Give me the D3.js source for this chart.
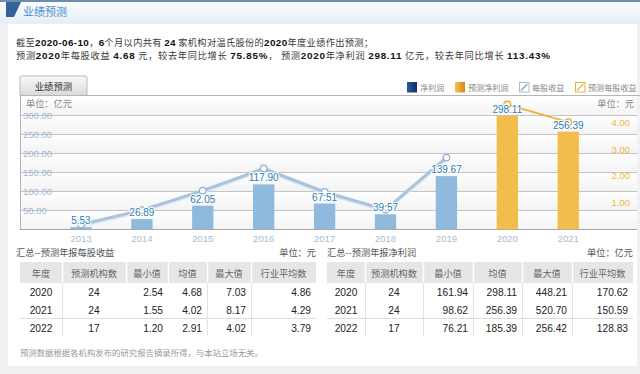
<!DOCTYPE html>
<html><head><meta charset="utf-8">
<script src="https://cdn.jsdelivr.net/npm/d3@7/dist/d3.min.js"></script>
<style>
html,body{margin:0;padding:0;background:#fff;}
svg{display:block;}
</style></head>
<body>
<svg id="c" width="640" height="374"></svg>
<script>
// ---------- data ----------
const years = ["2013","2014","2015","2016","2017","2018","2019","2020","2021"];
const histYears = ["2013","2014","2015","2016","2017","2018","2019"];
const histProfit = [5.53, 26.89, 62.05, 117.90, 67.51, 39.57, 139.67];
const fcYears = ["2020","2021"];
const fcProfit = [298.11, 256.39];
const histEps = [0.18, 0.72, 1.45, 2.28, 1.40, 0.74, 2.69];
const fcEps = [4.68, 4.02];
const leftTicks = [50, 100, 150, 200, 250, 300];
const rightTicks = [1, 2, 3, 4];
const legendLabels = ["净利润", "预测净利润", "每股收益", "预测每股收益"];
const tableHeader = ["年度", "预测机构数", "最小值", "均值", "最大值", "行业平均数"];
const epsRows = [
  ["2020", "24", "2.54", "4.68", "7.03", "4.86"],
  ["2021", "24", "1.55", "4.02", "8.17", "4.29"],
  ["2022", "17", "1.20", "2.91", "4.02", "3.79"]
];
const profitRows = [
  ["2020", "24", "161.94", "298.11", "448.21", "170.62"],
  ["2021", "24", "98.62", "256.39", "520.70", "150.59"],
  ["2022", "17", "76.21", "185.39", "256.42", "128.83"]
];
// summary sentences: [text, bold?]
const line1 = [["截至",0],["2020-06-10",1],["，",0],["6",1],["个月以内共有 ",0],["24",1],[" 家机构对温氏股份的",0],["2020",1],["年度业绩作出预测；",0]];
const line2 = [["预测",0],["2020",1],["年每股收益 ",0],["4.68",1],[" 元，较去年同比增长 ",0],["75.85%",1],["， 预测",0],["2020",1],["年净利润 ",0],["298.11",1],[" 亿元，较去年同比增长 ",0],["113.43%",1]];

// ---------- setup ----------
const CJK = "'Noto Sans CJK SC', 'Noto Sans', sans-serif";
const NUM = "'Liberation Sans', Arial, sans-serif";
const svg = d3.select("#c");
const defs = svg.append("defs");

function lg(id, stops, vertical=true){
  const g = defs.append("linearGradient").attr("id", id)
    .attr("x1",0).attr("y1",0).attr("x2", vertical?0:1).attr("y2", vertical?1:0);
  stops.forEach(s=>g.append("stop").attr("offset", s[0]).attr("stop-color", s[1]));
}
lg("hdr", [[0,"#fbfdff"],[1,"#e6eef6"]]);
lg("tab", [[0,"#fafafa"],[1,"#d9d9d9"]]);
lg("navy", [[0,"#2c5aa0"],[1,"#0f2f66"]], false);
lg("orng", [[0,"#f5c15a"],[1,"#d98a0c"]], false);
lg("band", [[0,"#ffffff"],[1,"#f3f3f3"]]);

// page background pieces
svg.append("rect").attr("x",0).attr("y",0).attr("width",640).attr("height",374).attr("fill","#fff");
svg.append("rect").attr("x",0).attr("y",24).attr("width",8).attr("height",350).attr("fill","#f1f1f1");
svg.append("rect").attr("x",637).attr("y",24).attr("width",3).attr("height",350).attr("fill","#f1f1f1");
svg.append("rect").attr("x",0).attr("y",366).attr("width",640).attr("height",8).attr("fill","#f1f1f1");

// header
svg.append("rect").attr("x",0).attr("y",0).attr("width",640).attr("height",24).attr("fill","url(#hdr)");
svg.append("rect").attr("x",0).attr("y",0).attr("width",640).attr("height",2).attr("fill","#6d8dab");
svg.append("polygon").attr("points","6,2 21,2 14,17 6,17").attr("fill","#34639a");
svg.append("text").attr("x",23).attr("y",15.5).attr("font-family",CJK).attr("font-size",11)
  .attr("fill","#4b8fcf").text("业绩预测");

// summary lines (flowing tspans fitted to the reference width)
function flowLine(y, segs, width){
  const t = svg.append("text").attr("x",16).attr("y", y).attr("xml:space","preserve")
    .style("white-space","pre").attr("textLength", width).attr("lengthAdjust","spacing");
  segs.forEach(s=>{
    t.append("tspan").text(s[0])
      .attr("font-family", s[1] ? NUM : CJK)
      .attr("font-weight", s[1] ? "bold" : "normal")
      .attr("font-size", s[1] ? 9.9 : 9.2)
      .attr("fill", s[1] ? "#111" : "#3a3a3a");
  });
}
flowLine(46, line1, 357);
flowLine(58.5, line2, 534);

// tab
svg.append("path").attr("d","M20,95.5 L20,78 Q20,76 22,76 L85,76 Q87,76 87,78 L87,95.5")
  .attr("fill","url(#tab)").attr("stroke","#b9b9b9");
svg.append("text").attr("x",53.5).attr("y",90).attr("text-anchor","middle")
  .attr("font-family",CJK).attr("font-size",9.4).attr("fill","#333").text("业绩预测");

// legend
const legX = [407, 455, 519, 575];
legendLabels.forEach((lab,i)=>{
  const g = svg.append("g").attr("transform",`translate(${legX[i]},82)`);
  if(i===0) g.append("rect").attr("width",10).attr("height",10.5).attr("fill","url(#navy)");
  if(i===1) g.append("rect").attr("width",10).attr("height",10.5).attr("fill","url(#orng)");
  if(i>=2){
    g.append("rect").attr("x",0.5).attr("y",0.5).attr("width",9.5).attr("height",9.5)
      .attr("fill","#fff").attr("stroke", i===2 ? "#a9bfd6" : "#e0b24a");
    g.append("line").attr("x1",2).attr("y1",8.5).attr("x2",8.5).attr("y2",2)
      .attr("stroke", i===2 ? "#7ea6cc" : "#f0b43c").attr("stroke-width",1.3);
  }
  g.append("text").attr("x",13).attr("y",8.8).attr("font-family",CJK).attr("font-size",8.1)
    .attr("fill","#888").text(lab);
});

// ---------- chart ----------
const PL = 20, PR = 637, PT = 96, PB = 229.3;
const x = d3.scaleBand().domain(years).range([50.5, 598.7]).paddingInner(0.65).paddingOuter(0.325);
const yL = d3.scaleLinear().domain([0, 350]).range([PB, PT]);
const yR = d3.scaleLinear().domain([0, 5]).range([PB, PT]);

// bands
const bandEdges = [0].concat(leftTicks).concat([350]);
for(let i=0;i<bandEdges.length-1;i++){
  svg.append("rect").attr("x",PL).attr("width",PR-PL)
    .attr("y", yL(bandEdges[i+1])).attr("height", yL(bandEdges[i]) - yL(bandEdges[i+1]))
    .attr("fill", "url(#band)");
}
// gridlines
svg.append("g").selectAll("line").data(leftTicks).join("line")
  .attr("x1",PL).attr("x2",PR).attr("y1",d=>Math.round(yL(d))+0.5).attr("y2",d=>Math.round(yL(d))+0.5)
  .attr("stroke","#c4c4c4");
// borders
svg.append("line").attr("x1",PL).attr("x2",640).attr("y1",95.5).attr("y2",95.5).attr("stroke","#b5b5b5");
svg.append("line").attr("x1",20.5).attr("x2",20.5).attr("y1",95.5).attr("y2",PB).attr("stroke","#b5b5b5");
svg.append("line").attr("x1",PL).attr("x2",PR).attr("y1",Math.round(PB)+0.5).attr("y2",Math.round(PB)+0.5).attr("stroke","#a8a8a8");

// left axis labels
svg.append("g").selectAll("text").data(leftTicks).join("text")
  .attr("x",23).attr("y",d=>yL(d)+3.5).attr("font-family",NUM).attr("font-size",9.5)
  .attr("fill","#9db6d3").text(d=>d3.format(".2f")(d));
// right axis labels
svg.append("g").selectAll("text").data(rightTicks).join("text")
  .attr("x",630).attr("y",d=>yR(d)+3.5).attr("text-anchor","end").attr("font-family",NUM).attr("font-size",9.5)
  .attr("fill","#f0b840").text(d=>d3.format(".2f")(d));
// units
svg.append("text").attr("x",26).attr("y",107).attr("font-family",CJK).attr("font-size",9.2).attr("fill","#888").text("单位：亿元");
svg.append("text").attr("x",634).attr("y",107).attr("text-anchor","end").attr("font-family",CJK).attr("font-size",9.2).attr("fill","#888").text("单位：元");

// bars
svg.append("g").selectAll("rect").data(histYears.map((y,i)=>({y, v:histProfit[i]}))).join("rect")
  .attr("x",d=>x(d.y)).attr("width",x.bandwidth()).attr("y",d=>yL(d.v)).attr("height",d=>yL(0)-yL(d.v))
  .attr("fill","#8fbadd");
svg.append("g").selectAll("rect").data(fcYears.map((y,i)=>({y, v:fcProfit[i]}))).join("rect")
  .attr("x",d=>x(d.y)).attr("width",x.bandwidth()).attr("y",d=>yL(d.v)).attr("height",d=>yL(0)-yL(d.v))
  .attr("fill","#f3bd4c");

// lines
const cx = d => x(d) + x.bandwidth()/2;
const histPts = histYears.map((y,i)=>[cx(y), yR(histEps[i])]);
const fcPts = fcYears.map((y,i)=>[cx(y), yR(fcEps[i])]);
const line = d3.line();
svg.append("path").attr("d", line(histPts.map(p=>[p[0],p[1]+1.5]))).attr("fill","none")
  .attr("stroke","#dde6ee").attr("stroke-width",3);
svg.append("path").attr("d", line(histPts)).attr("fill","none").attr("stroke","#a9c3dc").attr("stroke-width",3)
  .attr("stroke-linejoin","round");
svg.append("g").selectAll("circle").data(histPts).join("circle")
  .attr("cx",d=>d[0]).attr("cy",d=>d[1]).attr("r",3.3).attr("fill","#fff").attr("stroke","#8fb3d6").attr("stroke-width",1.3);
svg.append("path").attr("d", line(fcPts)).attr("fill","none").attr("stroke","#f0b43c").attr("stroke-width",2);
svg.append("g").selectAll("circle").data(fcPts).join("circle")
  .attr("cx",d=>d[0]).attr("cy",d=>d[1]).attr("r",3.3).attr("fill","#fff").attr("stroke","#e9a92c").attr("stroke-width",1.3);

// value labels
const allBars = histYears.map((y,i)=>({y, v:histProfit[i]})).concat(fcYears.map((y,i)=>({y, v:fcProfit[i]})));
svg.append("g").selectAll("text").data(allBars).join("text")
  .attr("x",d=>cx(d.y)).attr("y",d=>yL(d.v)-3).attr("text-anchor","middle")
  .attr("font-family",NUM).attr("font-size",10).attr("fill","#2a7db5")
  .attr("stroke","#fff").attr("stroke-width",2).attr("paint-order","stroke")
  .text(d=>d3.format(".2f")(d.v));

// x labels
svg.append("g").selectAll("text").data(years).join("text")
  .attr("x",d=>cx(d)).attr("y",242).attr("text-anchor","middle")
  .attr("font-family",NUM).attr("font-size",9.5).attr("fill","#a6bdd5").text(d=>d);

// ---------- tables ----------
function table(x0, cols, title, unit, rows, lines){
  svg.append("text").attr("x",x0 === 20 ? 16 : x0).attr("y",256).attr("font-family",CJK).attr("font-size",9.2)
    .attr("fill","#555").text(title);
  svg.append("text").attr("x",cols[cols.length-1]).attr("y",256).attr("text-anchor","end")
    .attr("font-family",CJK).attr("font-size",9.2).attr("fill","#555").text(unit);
  const L = cols[0], R = cols[cols.length-1];
  svg.append("rect").attr("x",L).attr("y",262).attr("width",R-L).attr("height",21).attr("fill","#e6e6e6");
  for(let i=1;i<cols.length-1;i++){
    svg.append("line").attr("x1",cols[i]+0.5).attr("x2",cols[i]+0.5).attr("y1",262).attr("y2",283).attr("stroke","#fff").attr("stroke-width",1.5);
  }
  tableHeader.forEach((h,i)=>{
    svg.append("text").attr("x",(cols[i]+cols[i+1])/2).attr("y",276.5).attr("text-anchor","middle")
      .attr("font-family",CJK).attr("font-size",9.2).attr("fill","#666").text(h);
  });
  lines.forEach(c=>{
    svg.append("line").attr("x1",c+0.5).attr("x2",c+0.5).attr("y1",283).attr("y2",336).attr("stroke","#e2e2e2");
  });
  svg.append("line").attr("x1",L).attr("x2",R).attr("y1",318.5).attr("y2",318.5).attr("stroke","#dcdcdc");
  rows.forEach((r,ri)=>{
    const yy = 295.5 + ri*18.2;
    r.forEach((v,ci)=>{
      const t = svg.append("text").attr("y",yy).attr("font-family",NUM).attr("font-size",10.2).attr("fill","#222").text(v);
      if(ci<2) t.attr("x",(cols[ci]+cols[ci+1])/2).attr("text-anchor","middle");
      else t.attr("x",cols[ci+1]-5).attr("text-anchor","end");
    });
  });
}
table(20, [20,62,126,168,207,251,316], "汇总--预测年报每股收益", "单位：元", epsRows, [62,207,251]);
table(327, [327,365,423,473,522,572,633], "汇总--预测年报净利润", "单位：亿元", profitRows, [365,423,473,522,572]);

svg.append("text").attr("x",20).attr("y",356).attr("font-family",CJK).attr("font-size",8.4)
  .attr("fill","#999").text("预测数据根据各机构发布的研究报告摘录所得，与本站立场无关。");
</script>
</body></html>
